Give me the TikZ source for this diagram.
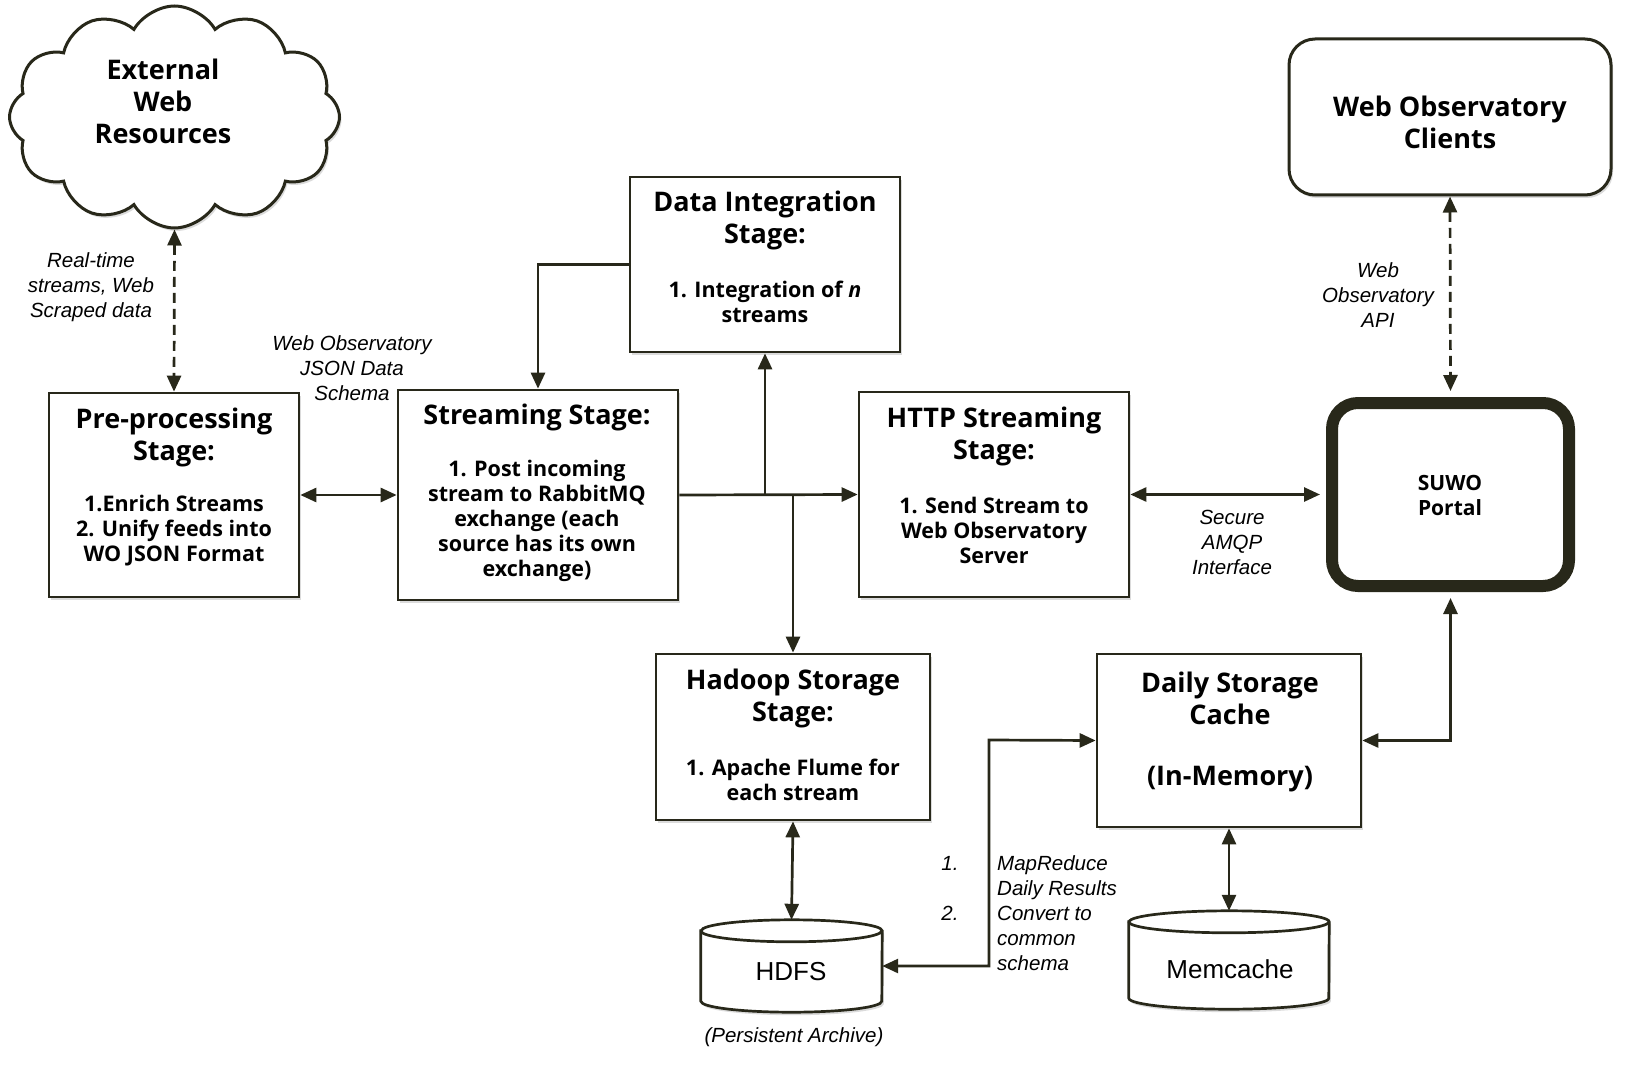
\documentclass[tikz,border=0pt]{standalone}
\usepackage{fontspec}
\setmainfont{Open Sans}
\newfontfamily\lab{Liberation Sans}
\usetikzlibrary{shapes.symbols,shadows,arrows.meta,calc}
\definecolor{ln}{RGB}{40,40,26}
\begin{document}
\begin{tikzpicture}[x=1pt,y=-1pt,
  shd/.style={drop shadow={shadow xshift=2pt,shadow yshift=-3pt,opacity=0.28}},
  box/.style={draw=ln, line width=2.7pt, fill=white, rectangle, inner sep=0pt, shd},
  ttl/.style={font=\fontsize{27}{32}\selectfont\bfseries, align=center, inner sep=0pt},
  bdy/.style={font=\fontsize{21.5}{25}\selectfont\bfseries, align=center, inner sep=0pt},
  lbl/.style={font=\lab\itshape\fontsize{20.5}{25}\selectfont, align=center, inner sep=0pt},
  cyltxt/.style={font=\lab\fontsize{26}{30}\selectfont, inner sep=0pt},
  tip/.tip={Triangle[length=16pt,width=14pt]},
  conn/.style={draw=ln, line width=2.7pt, -tip},
  bi/.style={draw=ln, line width=2.7pt, tip-tip},
  dsh/.style={bi, dash pattern=on 10pt off 6pt},
  cyl/.style={draw=ln, line width=2.7pt, fill=white}
]
\useasboundingbox (0,0) rectangle (1627,1067);
\fill[white] (0,0) rectangle (1627,1067);

% cloud
\node[cloud, draw=ln, line width=3pt, fill=white, cloud puffs=12, cloud puff arc=120, aspect=1.45,
      minimum width=330pt, minimum height=222pt, shd] (cloud) at (174.5,117) {};
\node[ttl] (cloudT) at (163,101) {External\\Web\\Resources};

% boxes
\node[box, minimum width=250pt, minimum height=204pt] (pre) at (174,495) {};
\node[ttl] (preT) at (174,437) {Pre-processing\\Stage:};
\node[bdy] (preB) at (174,531) {1.Enrich Streams\\2. Unify feeds into\\WO JSON Format};

\node[box, minimum width=280pt, minimum height=210pt] (str) at (538,495) {};
\node[ttl] (strT) at (537,417) {Streaming Stage:};
\node[bdy] (strB) at (537,521) {1. Post incoming\\stream to RabbitMQ\\exchange (each\\source has its own\\exchange)};

\node[box, minimum width=270pt, minimum height=175pt] (di) at (765,264.5) {};
\node[ttl] (diT) at (765,220) {Data Integration\\Stage:};
\node[bdy] (diB) at (765,302) {1. Integration of {\itshape n}\\streams};

\node[box, minimum width=270pt, minimum height=205pt] (http) at (994,494.5) {};
\node[ttl] (httpT) at (994,436) {HTTP Streaming\\Stage:};
\node[bdy] (httpB) at (994,530) {1. Send Stream to\\Web Observatory\\Server};

\node[box, minimum width=274pt, minimum height=166pt] (had) at (793,737) {};
\node[ttl] (hadT) at (793,698) {Hadoop Storage\\Stage:};
\node[bdy] (hadB) at (793,780) {1. Apache Flume for\\each stream};

\node[box, minimum width=264pt, minimum height=173pt] (daily) at (1229,740.5) {};
\node[ttl] (dailyT) at (1230,698) {Daily Storage\\Cache};
\node[ttl] (dailyM) at (1230,779) {(In-Memory)};

\node[draw=ln, line width=12pt, fill=white, rounded corners=26pt, minimum width=237pt, minimum height=183pt, inner sep=0pt] (suwo) at (1450.5,494.5) {};
\node[font=\fontsize{21}{25}\selectfont\bfseries, align=center, inner sep=0pt] (suwoT) at (1450,495) {SUWO\\Portal};

\node[draw=ln, line width=3pt, fill=white, rounded corners=26pt, minimum width=322pt, minimum height=156pt, inner sep=0pt, shd] (woc) at (1450,117) {};
\node[ttl] (wocT) at (1450,122) {Web Observatory\\Clients};

% cylinders
\node[minimum width=181pt, minimum height=92pt, inner sep=0pt] (hdfs) at (791.5,966) {};
\node[minimum width=200pt, minimum height=98pt, inner sep=0pt] (mem) at (1229,960) {};
\foreach \c/\r in {hdfs/90.5pt, mem/100pt}{
  \path[cyl, shd] ([yshift=-11pt]\c.north west) -- ([yshift=11pt]\c.south west)
     arc[start angle=180, end angle=360, x radius=\r, y radius=11pt]
     -- ([yshift=-11pt]\c.north east)
     arc[start angle=0, end angle=180, x radius=\r, y radius=11pt] -- cycle;
  \draw[cyl, fill=none] ([yshift=-11pt]\c.north west) arc[start angle=180, end angle=360, x radius=\r, y radius=11pt];
}
\node[cyltxt] (hdfsT) at (791,972) {HDFS};
\node[cyltxt] (memT) at (1230,969) {Memcache};

% connectors
\coordinate (j1) at (765,495);
\coordinate (j2) at (793,495);
\coordinate (mr) at (989,740);
\path[dsh] (cloud.south) -- (pre.north);
\path[bi] (pre.east) -- (str.west);
\path[conn] (di.west) -| (str.north);
\path[conn] (str.east) -- (http.west);
\path[conn] (j1) -- (di.south);
\path[conn] (j2) -- (had.north);
\path[bi, shorten >=6pt] (http.east) -- (suwo.west);
\path[dsh, shorten >=6pt] (woc.south) -- (suwo.north);
\path[bi] (had.south) -- (hdfs.north);
\path[bi] (hdfs.east) -| (mr) -- (daily.west);
\path[bi] (daily.south) -- (mem.north);
\path[bi, shorten >=6pt] (daily.east) -| (suwo.south);

% labels
\node[lbl] (l1) at (91,287) {Real-time\\streams, Web\\Scraped data};
\node[lbl] (l2) at (352,368) {Web Observatory\\JSON Data\\Schema};
\node[lbl] (l3) at (1232,542) {Secure\\AMQP\\Interface};
\node[lbl] (l4) at (1378,295) {Web\\Observatory\\API};
\node[lbl] (n1) at (950,863) {1.};
\node[lbl] (n2) at (950,913) {2.};
\node[lbl, align=left, anchor=west] (l5) at (997,913) {MapReduce\\Daily Results\\Convert to\\common\\schema};
\node[lbl] (l6) at (794,1037) {(Persistent Archive)};
\end{tikzpicture}
\end{document}
